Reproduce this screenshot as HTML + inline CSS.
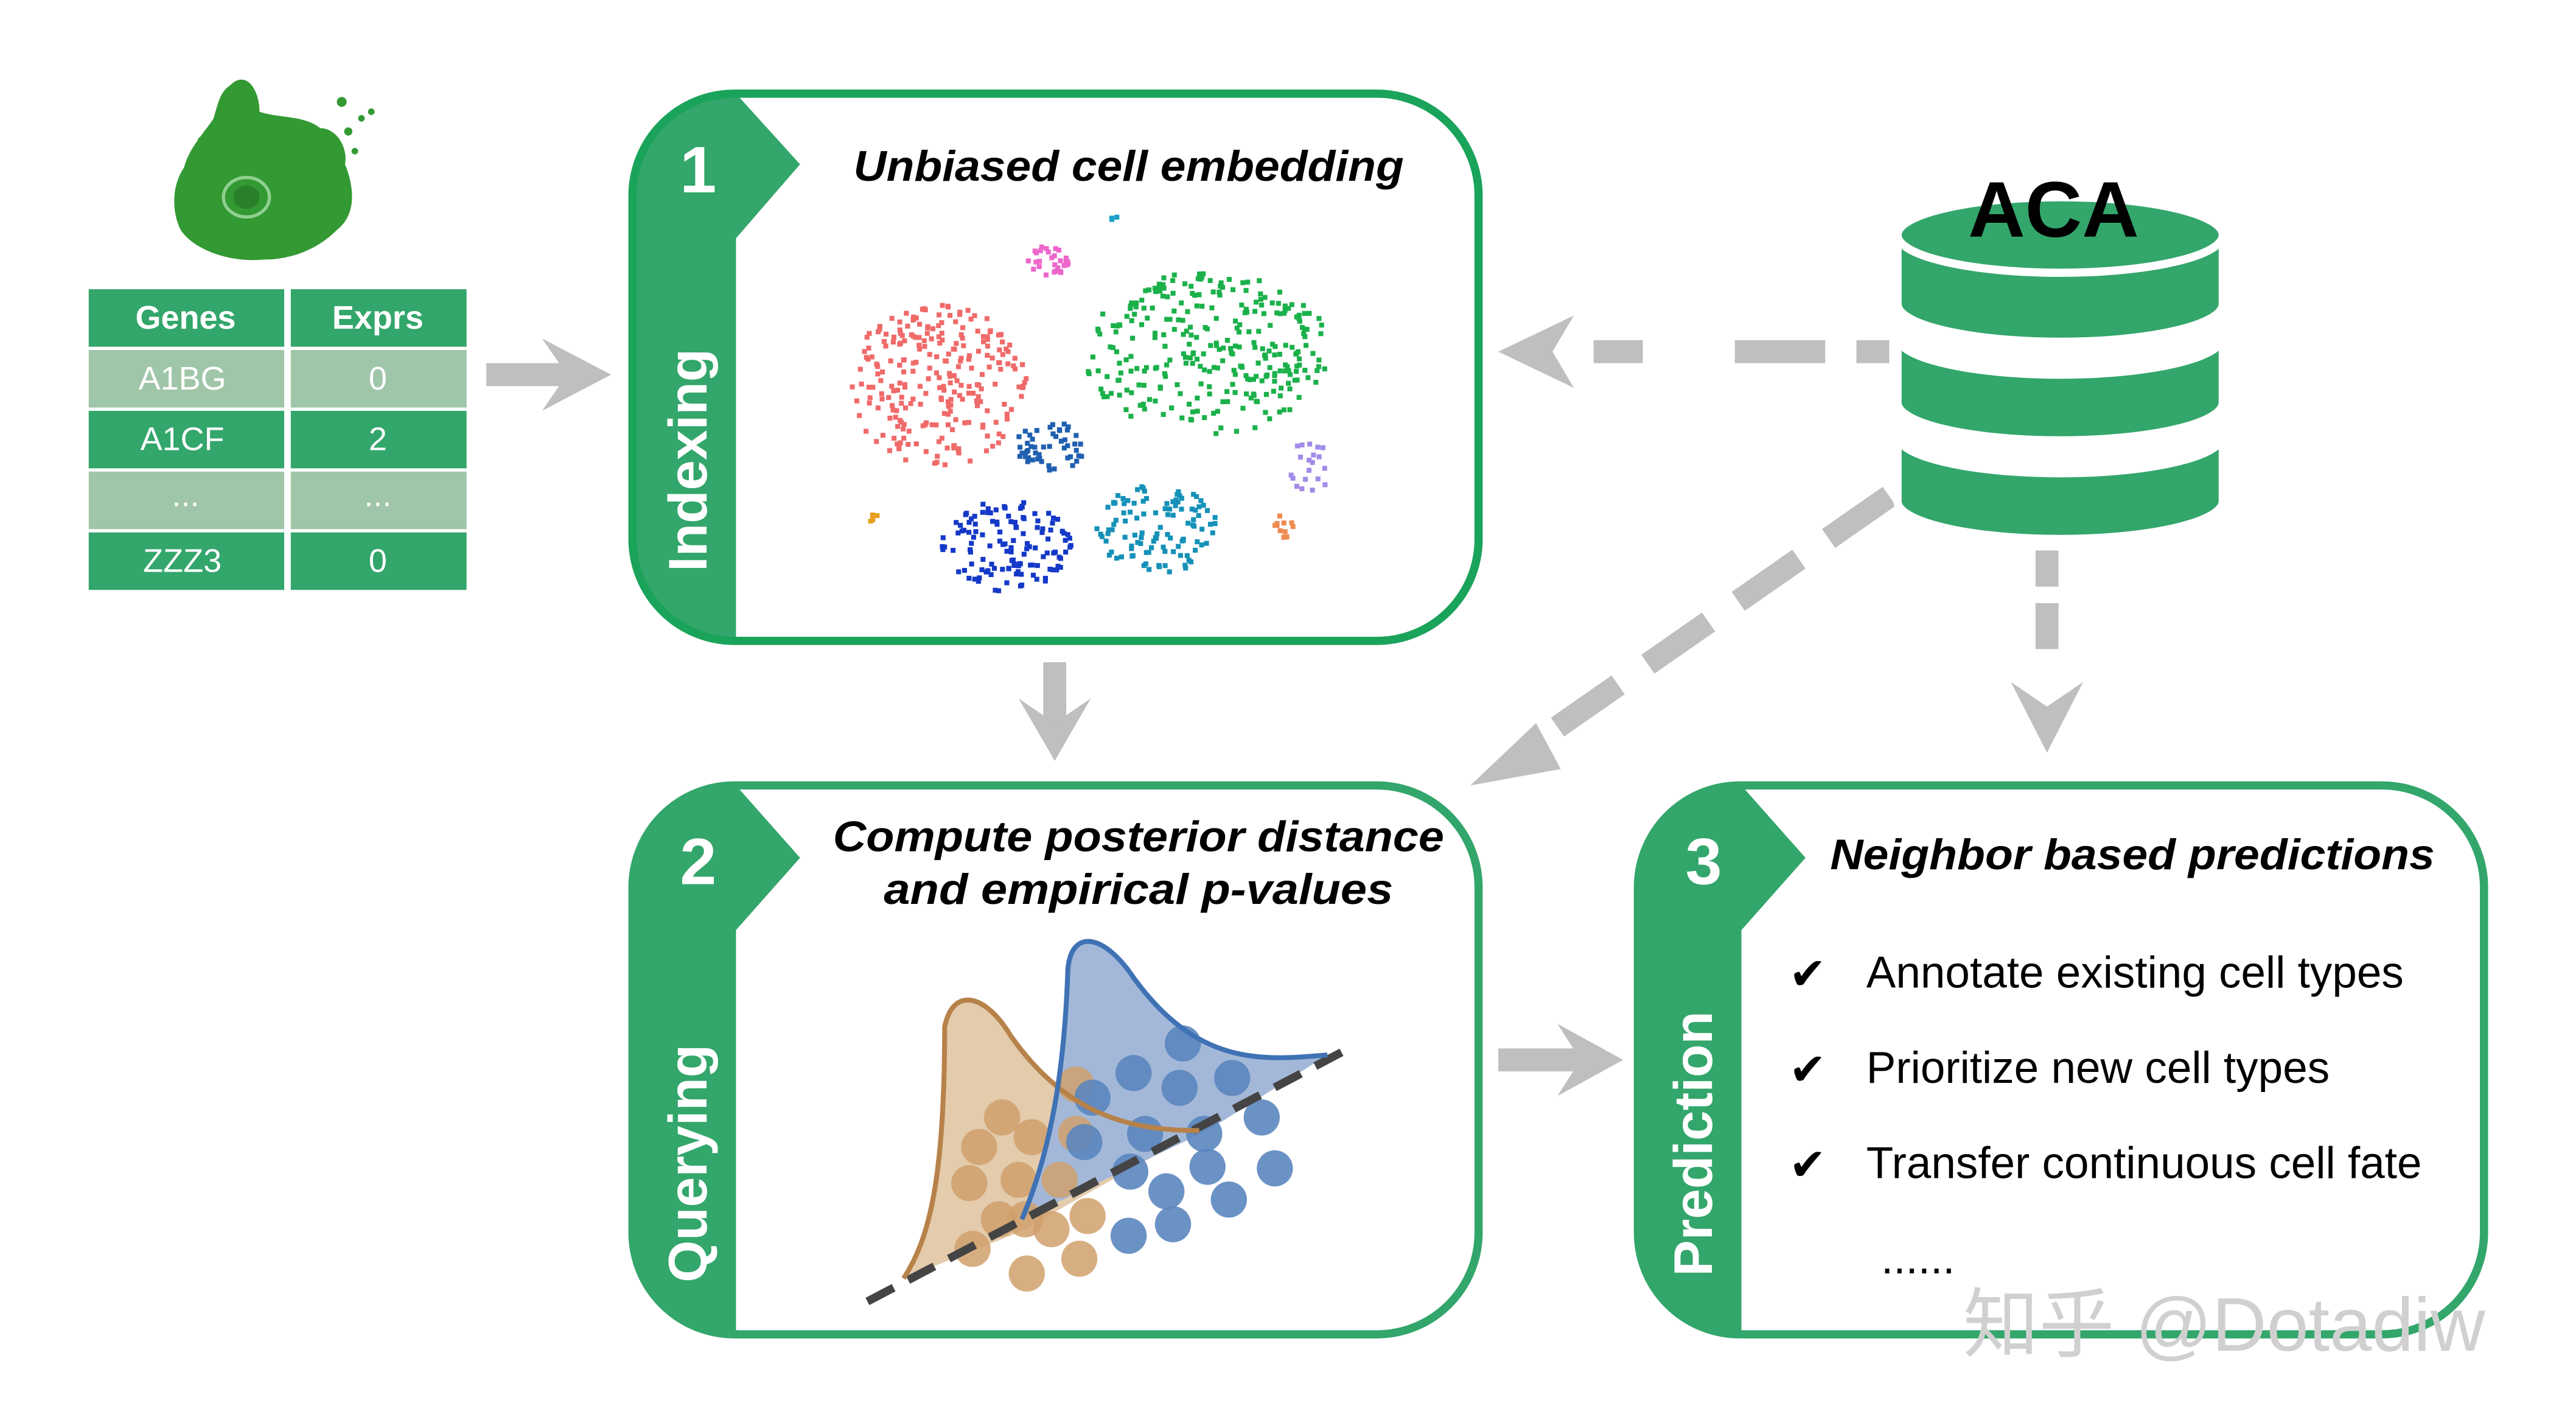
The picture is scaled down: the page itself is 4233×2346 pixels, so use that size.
<!DOCTYPE html>
<html><head><meta charset="utf-8"><style>
html,body{margin:0;padding:0;background:#fff}
svg{display:block}
text{font-family:"Liberation Sans","DejaVu Sans",sans-serif}
</style></head><body>
<svg id="s" width="4233" height="2346" viewBox="0 0 1568 869" preserveAspectRatio="none" xmlns="http://www.w3.org/2000/svg">
<defs>
<clipPath id="c1"><rect x="385" y="57" width="515" height="333" rx="62"/></clipPath>
<clipPath id="c2"><rect x="385" y="478" width="515" height="334" rx="62"/></clipPath>
<clipPath id="c3"><rect x="997" y="478" width="515" height="334" rx="62"/></clipPath>
</defs>
<path d="M140,52 C150,42 158,55 158,68 C170,72 185,70 195,78 C205,78 212,90 210,100 C215,112 218,130 205,140 C195,150 180,158 160,158 C140,160 118,152 110,140 C104,128 105,112 112,102 C115,90 125,80 130,72 C133,62 134,56 140,52Z" fill="#339933"/>
<ellipse cx="150" cy="120" rx="14" ry="12" fill="none" stroke="#8fd08f" stroke-width="2"/>
<ellipse cx="150" cy="120" rx="8" ry="7" fill="#2a7f2a"/>
<g fill="#339933"><circle cx="208" cy="62" r="3"/><circle cx="212" cy="80" r="2.5"/><circle cx="220" cy="72" r="2"/><circle cx="226" cy="68" r="2"/><circle cx="216" cy="92" r="2"/><circle cx="122" cy="85" r="1.5"/></g>
<g fill="#33a66b"><rect x="54" y="176" width="119" height="35"/><rect x="177" y="176" width="107" height="35"/><rect x="54" y="250" width="119" height="35"/><rect x="177" y="250" width="107" height="35"/><rect x="54" y="324" width="119" height="35"/><rect x="177" y="324" width="107" height="35"/></g>
<g fill="#9fc6a8"><rect x="54" y="213" width="119" height="35"/><rect x="177" y="213" width="107" height="35"/><rect x="54" y="287" width="119" height="35"/><rect x="177" y="287" width="107" height="35"/></g>
<g fill="#fff" font-size="20" text-anchor="middle"><text x="113" y="200" font-weight="bold">Genes</text><text x="230" y="200" font-weight="bold">Exprs</text>
<text x="111" y="237">A1BG</text><text x="230" y="237">0</text><text x="111" y="274">A1CF</text><text x="230" y="274">2</text>
<text x="113" y="308">...</text><text x="230" y="308">...</text><text x="111" y="348">ZZZ3</text><text x="230" y="348">0</text></g>
<g fill="#bfbfbf">
<rect x="296" y="221" width="50" height="14"/><polygon points="330,206 372,228 330,250 345,228"/>
<rect x="635" y="403" width="14" height="38"/><polygon points="620,425 642,463 664,425 642,440"/>
<rect x="912" y="638" width="50" height="14"/><polygon points="948,623 988,645 948,667 962,645"/>
<rect x="1239" y="335" width="14" height="22"/><rect x="1239" y="367" width="14" height="28"/><polygon points="1224,415 1246,458 1268,415 1246,430"/>
<rect x="1130" y="207" width="20" height="14"/><rect x="1056" y="207" width="55" height="14"/><rect x="970" y="207" width="30" height="14"/><polygon points="958,192 912,214 958,236 945,214"/>
</g>
<g stroke="#bfbfbf" stroke-width="14" stroke-dasharray="45,22" fill="none"><line x1="1150" y1="302" x2="930" y2="455"/></g>
<polygon points="895,478 935,440 950,468" fill="#bfbfbf"/>
<rect x="385" y="57" width="515" height="333" rx="62" fill="#fff"/>
<g clip-path="url(#c1)"><polygon points="385,57 448,57 487,100 448,145 448,390 385,390" fill="#33a66b"/></g>
<rect x="385" y="57" width="515" height="333" rx="62" fill="none" stroke="#1aa35a" stroke-width="5"/>
<rect x="385" y="478" width="515" height="334" rx="62" fill="#fff"/>
<g clip-path="url(#c2)"><polygon points="385,478 448,478 487,522 448,566 448,812 385,812" fill="#33a66b"/></g>
<rect x="385" y="478" width="515" height="334" rx="62" fill="none" stroke="#33a66b" stroke-width="5"/>
<rect x="997" y="478" width="515" height="334" rx="62" fill="#fff"/>
<g clip-path="url(#c3)"><polygon points="997,478 1060,478 1099,522 1060,566 1060,812 997,812" fill="#33a66b"/></g>
<rect x="997" y="478" width="515" height="334" rx="62" fill="none" stroke="#33a66b" stroke-width="5"/>
<g fill="#fff" font-weight="bold">
<text x="425" y="117" font-size="40" text-anchor="middle">1</text>
<text x="425" y="538" font-size="40" text-anchor="middle">2</text>
<text x="1037" y="538" font-size="40" text-anchor="middle">3</text>
<text transform="translate(430,280) rotate(-90)" font-size="33" text-anchor="middle">Indexing</text>
<text transform="translate(430,708) rotate(-90)" font-size="33" text-anchor="middle">Querying</text>
<text transform="translate(1042,696) rotate(-90)" font-size="33" text-anchor="middle">Prediction</text>
</g>
<g font-weight="bold" font-style="italic" font-size="26" text-anchor="middle" fill="#000">
<text x="687" y="110" textLength="335" lengthAdjust="spacingAndGlyphs">Unbiased cell embedding</text>
<text x="693" y="518" textLength="372" lengthAdjust="spacingAndGlyphs">Compute posterior distance</text>
<text x="693" y="550" textLength="310" lengthAdjust="spacingAndGlyphs">and empirical p-values</text>
<text x="1298" y="529" textLength="368" lengthAdjust="spacingAndGlyphs">Neighbor based predictions</text>
</g>
<g font-size="27" fill="#000">
<text x="1089" y="602">✔</text><text x="1136" y="601">Annotate existing cell types</text>
<text x="1089" y="660">✔</text><text x="1136" y="659">Prioritize new cell types</text>
<text x="1089" y="718">✔</text><text x="1136" y="717">Transfer continuous cell fate</text>
<text x="1145" y="775">......</text>
</g>
<g fill="#33a66b" stroke="#fff" stroke-width="5">
<path d="M1155,265 v40 a99,23 0 0 0 198,0 v-40 a99,23 0 0 1 -198,0z"/>
<path d="M1155,205 v40 a99,23 0 0 0 198,0 v-40 a99,23 0 0 1 -198,0z"/>
<path d="M1155,143 v42 a99,23 0 0 0 198,0 v-42z"/>
<ellipse cx="1254" cy="143" rx="99" ry="23"/>
</g>
<text x="1250" y="144" font-size="48" font-weight="bold" text-anchor="middle" fill="#000">ACA</text>
<path d="M575,625 C580,600 600,605 615,630 C650,680 690,688 730,688 L620,750 L550,778 C565,755 575,720 575,625Z" fill="#e3cbac"/>
<path d="M650,590 C652,565 672,568 690,595 C730,650 770,645 808,642 L735,688 L622,742 C640,700 648,650 650,590Z" fill="#a3b8d8"/>
<g id="dots"></g>
<line x1="528" y1="792" x2="823" y2="637" stroke="#444" stroke-width="5" stroke-dasharray="18,10"/>
<path d="M550,778 C565,755 575,720 575,625 C580,600 600,605 615,630 C650,680 690,688 730,688" fill="none" stroke="#b7824a" stroke-width="3"/>
<path d="M622,742 C640,700 648,650 650,590 C652,565 672,568 690,595 C730,650 770,645 808,642" fill="none" stroke="#3f72b5" stroke-width="3"/>
<g id="scatter"></g>
<text x="1195" y="822" font-size="46" fill="#d0d0d0" font-family="'Liberation Sans','Noto Sans CJK SC',sans-serif">知乎 @Dotadiw</text>
</svg>
<script>
var NS="http://www.w3.org/2000/svg";
var seed=7;function r(){seed=(seed*16807)%2147483647;return (seed-1)/2147483646;}
var d=document.getElementById("dots");
var orange=[[610,680],[596,698],[628,692],[655,690],[590,720],[620,718],[645,718],[608,742],[640,748],[662,740],[592,760],[625,775],[657,766],[655,660],[624,742]];
var blue=[[720,635],[690,653],[718,662],[750,656],[665,668],[697,690],[733,690],[768,680],[660,695],[688,713],[735,710],[776,711],[710,725],[748,730],[687,752],[714,745]];
orange.forEach(function(p){var c=document.createElementNS(NS,"circle");c.setAttribute("cx",p[0]);c.setAttribute("cy",p[1]);c.setAttribute("r",11);c.setAttribute("fill","#d0a06c");c.setAttribute("fill-opacity","0.85");d.appendChild(c);});
blue.forEach(function(p){var c=document.createElementNS(NS,"circle");c.setAttribute("cx",p[0]);c.setAttribute("cy",p[1]);c.setAttribute("r",11);c.setAttribute("fill","#5b86bf");c.setAttribute("fill-opacity","0.9");d.appendChild(c);});
var sc=document.getElementById("scatter");
var cl=[[570,235,55,50,"#f06a6a",260],[735,215,75,50,"#1bb14a",300],[640,272,22,15,"#1f5fb0",50],[612,332,40,28,"#1438c8",130],[705,322,38,27,"#1591b8",110],[637,160,14,10,"#ee66cc",30],[797,285,12,18,"#a28be8",20],[783,318,8,10,"#f08a50",12],[532,316,4,3,"#e8a020",4],[678,133,3,3,"#1aa0c8",3]];
cl.forEach(function(k){for(var i=0;i<k[5];i++){var a=r()*6.283,t=Math.sqrt(r());var c=document.createElementNS(NS,"rect");c.setAttribute("x",k[0]+Math.cos(a)*t*k[2]-1.5);c.setAttribute("y",k[1]+Math.sin(a)*t*k[3]-1.5);c.setAttribute("width",3);c.setAttribute("height",3);c.setAttribute("fill",k[4]);sc.appendChild(c);}});
</script>
</body></html>
